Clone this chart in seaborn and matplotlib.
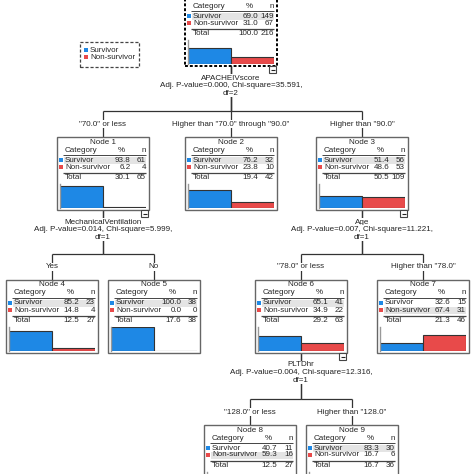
import numpy as np
import matplotlib.pyplot as plt
import matplotlib.patches as mpatches
import seaborn as sns

# node table values (node 0 .. node 9)
categories = ["Survivor", "Non-survivor"]
surv_pct = [69.0, 93.8, 76.2, 51.4, 85.2, 100.0, 65.1, 32.6, 40.7, 83.3]
surv_n = [149, 61, 32, 56, 23, 38, 41, 15, 11, 30]
non_pct = [31.0, 6.2, 23.8, 48.6, 14.8, 0.0, 34.9, 67.4, 59.3, 16.7]
non_n = [67, 4, 10, 53, 4, 0, 22, 31, 16, 6]
total_pct = [100.0, 30.1, 19.4, 50.5, 12.5, 17.6, 29.2, 21.3, 12.5, 16.7]
total_n = [216, 65, 42, 109, 27, 38, 63, 46, 27, 36]

parent = [None, 0, 0, 0, 1, 1, 3, 3, 6, 6]
edge_labels = [None, '"70.0" or less', 'Higher than "70.0" through "90.0"',
               'Higher than "90.0"', "Yes", "No", '"78.0" or less',
               'Higher than "78.0"', '"128.0" or less', 'Higher than "128.0"']
split_text = {
    0: ["APACHEIVscore", "Adj. P-value=0.000, Chi-square=35.591,", "df=2"],
    1: ["MechanicalVentilation", "Adj. P-value=0.014, Chi-square=5.999,", "df=1"],
    3: ["Age", "Adj. P-value=0.007, Chi-square=11.221,", "df=1"],
    6: ["PLTDhr", "Adj. P-value=0.004, Chi-square=12.316,", "df=1"],
}

# layout in pixels (from top-left)
node_left = [185, 57, 185, 316, 6, 108, 255, 377, 204, 306]
node_top = [-7, 137, 137, 137, 280, 280, 280, 280, 425, 425]
W, H = 92, 73

blue = "#1e88e5"
red = "#e84a4a"
palette = [blue, red]

sns.set_style("white")
plt.rcParams["font.family"] = ["Liberation Sans Narrow", "Liberation Sans", "DejaVu Sans"]
fs = 5.8

fig = plt.figure(figsize=(4.74, 4.74), dpi=100)
ax = fig.add_axes([0, 0, 1, 1])
ax.set_xlim(0, 474)
ax.set_ylim(0, 474)
ax.axis("off")


def Y(py):
    return 474 - py


def line(x0, y0, x1, y1, **kw):
    kw.setdefault("color", "#333333")
    kw.setdefault("lw", 0.9)
    ax.plot([x0, x1], [Y(y0), Y(y1)], solid_capstyle="butt", **kw)


wbox = dict(facecolor="white", edgecolor="none", pad=0.6)

# connectors and edge labels
for i, p in enumerate(parent):
    if p is None:
        continue
    px = node_left[p] + W / 2
    pb = node_top[p] + H
    cx = node_left[i] + W / 2
    ct = node_top[i]
    hy = ct - 26
    line(px, pb, px, hy)
    line(px, hy, cx, hy)
    line(cx, hy, cx, ct)
    ax.text(cx, Y(ct - 13), edge_labels[i], ha="center", va="center",
            fontsize=fs, bbox=wbox, zorder=3)

# split descriptions
for i, rows in split_text.items():
    cx = node_left[i] + W / 2
    b = node_top[i] + H
    for k, t in enumerate(rows):
        ax.text(cx, Y(b + 12 + 7.5 * k), t, ha="center", va="center",
                fontsize=fs, color="#222222", bbox=wbox, zorder=3)

# nodes
for i in range(len(surv_pct)):
    L, T = node_left[i], node_top[i]
    R = L + W
    if i == 0:
        box = mpatches.Rectangle((L, Y(T + H)), W, H, facecolor="white",
                                 edgecolor="black", lw=1.4, ls=(0, (1.5, 1.0)), zorder=4)
    else:
        box = mpatches.Rectangle((L, Y(T + H)), W, H, facecolor="white",
                                 edgecolor="#666666", lw=1.0, zorder=4)
    ax.add_patch(box)

    # root title sits above the visible area
    if T + 5 > 0:
        ax.text(L + W / 2, Y(T + 5), f"Node {i}", ha="center", va="center", fontsize=fs, zorder=6)
    ax.text(L + 8, Y(T + 13), "Category", ha="left", va="center", fontsize=fs, zorder=6)
    ax.text(R - 24, Y(T + 13), "%", ha="right", va="center", fontsize=fs, zorder=6)
    ax.text(R - 3, Y(T + 13), "n", ha="right", va="center", fontsize=fs, zorder=6)
    line(L + 6, T + 17.5, R - 3, T + 17.5, lw=0.7, color="#444444", zorder=6)

    # predicted category row is shaded
    hi = 0 if surv_pct[i] >= non_pct[i] else 1
    ax.add_patch(mpatches.Rectangle((L + 7, Y(T + 23 + 7 * hi + 3.5)), W - 10, 7,
                                    facecolor="#e4e4e4", edgecolor="none", zorder=5))
    rows = [(categories[0], surv_pct[i], surv_n[i], blue),
            (categories[1], non_pct[i], non_n[i], red)]
    for k, (name, pc, n, col) in enumerate(rows):
        yy = T + 23 + 7 * k
        ax.add_patch(mpatches.Rectangle((L + 2.5, Y(yy + 1.8)), 3.6, 3.6,
                                        facecolor=col, edgecolor="none", zorder=6))
        ax.text(L + 8, Y(yy), name, ha="left", va="center", fontsize=fs, zorder=6)
        ax.text(R - 18.5, Y(yy), f"{pc:.1f}", ha="right", va="center", fontsize=fs, zorder=6)
        ax.text(R - 3, Y(yy), f"{n}", ha="right", va="center", fontsize=fs, zorder=6)
    line(L + 6, T + 35.5, R - 3, T + 35.5, lw=0.9, color="#444444", zorder=6)
    ax.text(L + 8, Y(T + 40.5), "Total", ha="left", va="center", fontsize=fs, zorder=6)
    ax.text(R - 18.5, Y(T + 40.5), f"{total_pct[i]:.1f}", ha="right", va="center", fontsize=fs, zorder=6)
    ax.text(R - 3, Y(T + 40.5), f"{total_n[i]}", ha="right", va="center", fontsize=fs, zorder=6)

    # bar chart inside node
    iax = ax.inset_axes([L + 3, Y(T + 71), W - 6, 24], transform=ax.transData, zorder=7)
    sns.barplot(x=categories, y=[surv_pct[i], non_pct[i]], hue=categories,
                palette=palette, width=1.0, saturation=1, edgecolor="#333333",
                linewidth=0.8, legend=False, ax=iax)
    iax.set_xlim(-0.5, 1.5)
    iax.set_ylim(0, 102)
    iax.set_xticks([])
    iax.set_yticks([])
    iax.set_xlabel("")
    iax.set_ylabel("")
    iax.patch.set_alpha(0)
    for s in ["top", "right", "bottom"]:
        iax.spines[s].set_visible(False)
    iax.spines["left"].set_color("#999999")
    iax.spines["left"].set_linewidth(1.0)

    # collapse marker for split nodes
    if i in split_text:
        ax.add_patch(mpatches.Rectangle((R - 7.5, Y(T + H + 7)), 7, 7, facecolor="white",
                                        edgecolor="#444444", lw=0.8, zorder=8))
        line(R - 6, T + H + 3.5, R - 2, T + H + 3.5, lw=0.8, color="#222222", zorder=9)

# legend
ax.add_patch(mpatches.Rectangle((80, Y(67)), 59, 25, facecolor="white",
                                edgecolor="#444444", lw=0.9, ls=(0, (2.5, 1.5)), zorder=4))
for k, (name, col) in enumerate(zip(categories, palette)):
    yy = 50 + 7 * k
    ax.add_patch(mpatches.Rectangle((84, Y(yy + 1.8)), 3.6, 3.6, facecolor=col,
                                    edgecolor="none", zorder=5))
    ax.text(90, Y(yy), name, ha="left", va="center", fontsize=fs, zorder=5)

fig.savefig("out.png", dpi=100)
